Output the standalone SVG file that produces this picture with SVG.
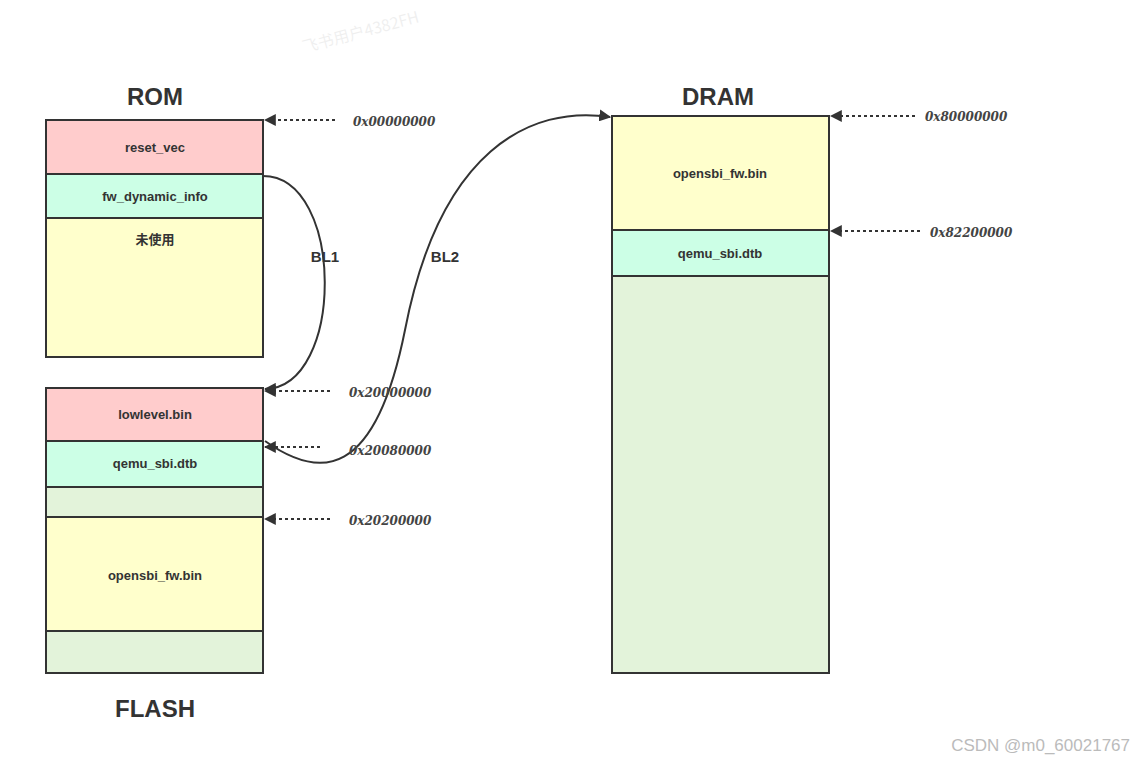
<svg xmlns="http://www.w3.org/2000/svg" width="1135" height="763" viewBox="0 0 1135 763">
<style>
.b{stroke:#333;stroke-width:2}
.t{font-family:"Liberation Sans","Noto Sans CJK SC",sans-serif;font-weight:bold;fill:#333;text-anchor:middle}
.s{font-size:13px}
.h{font-size:24px}
.a{font-family:"DejaVu Serif",serif;font-style:italic;font-weight:bold;font-size:12px;fill:#444}
.d{stroke:#333;stroke-width:2;stroke-dasharray:3 3;fill:none}
.c{stroke:#333;stroke-width:2;fill:none}
.w{font-family:"Noto Sans CJK SC",sans-serif;font-size:16px;fill:#000;opacity:0.06}
</style>
<defs><marker id="m" viewBox="0 0 10 10" refX="9" refY="5" markerWidth="6" markerHeight="6" orient="auto"><path d="M0,0L10,5L0,10z" fill="#333"/></marker></defs>
<rect width="1135" height="763" fill="#fff"/>
<g id="rom">
<rect class="b" x="46" y="120" width="217" height="54" fill="#ffcccc"/>
<rect class="b" x="46" y="174" width="217" height="44" fill="#ccffe6"/>
<rect class="b" x="46" y="218" width="217" height="139" fill="#ffffcc"/>
<text class="t h" x="155" y="105">ROM</text>
<text class="t s" x="155" y="152">reset_vec</text>
<text class="t s" x="155" y="201">fw_dynamic_info</text>
<text class="t s" x="155" y="244">未使用</text>
</g>
<g id="flash">
<rect class="b" x="46" y="388" width="217" height="53" fill="#ffcccc"/>
<rect class="b" x="46" y="441" width="217" height="46" fill="#ccffe6"/>
<rect class="b" x="46" y="487" width="217" height="30" fill="#e3f3da"/>
<rect class="b" x="46" y="517" width="217" height="114" fill="#ffffcc"/>
<rect class="b" x="46" y="631" width="217" height="42" fill="#e3f3da"/>
<text class="t s" x="155" y="419">lowlevel.bin</text>
<text class="t s" x="155" y="468">qemu_sbi.dtb</text>
<text class="t s" x="155" y="580">opensbi_fw.bin</text>
<text class="t h" x="155" y="717">FLASH</text>
</g>
<g id="dram">
<rect class="b" x="612" y="116" width="217" height="114" fill="#ffffcc"/>
<rect class="b" x="612" y="230" width="217" height="46" fill="#ccffe6"/>
<rect class="b" x="612" y="276" width="217" height="397" fill="#e3f3da"/>
<text class="t h" x="718" y="105">DRAM</text>
<text class="t s" x="720" y="178">opensbi_fw.bin</text>
<text class="t s" x="720" y="258">qemu_sbi.dtb</text>
</g>
<g id="connectors">
<path class="d" d="M335,120H265" marker-end="url(#m)"/>
<path class="d" d="M330,391H265" marker-end="url(#m)"/>
<path class="d" d="M320,447H265" marker-end="url(#m)"/>
<path class="d" d="M330,519H265" marker-end="url(#m)"/>
<path class="d" d="M915,116H831" marker-end="url(#m)"/>
<path class="d" d="M920,231H831" marker-end="url(#m)"/>
<path class="c" d="M263,176C345,176 345,388 265,389" marker-end="url(#m)"/>
<path class="c" d="M265,441C320,480 375,480 405,330C440,150 530,105 610,117" marker-end="url(#m)"/>
<text class="t" x="325" y="262" font-size="15">BL1</text>
<text class="t" x="445" y="262" font-size="15">BL2</text>
</g>
<text class="a" x="353" y="126">0x00000000</text>
<text class="a" x="349" y="397">0x20000000</text>
<text class="a" x="349" y="455">0x20080000</text>
<text class="a" x="349" y="525">0x20200000</text>
<text class="a" x="925" y="121">0x80000000</text>
<text class="a" x="930" y="237">0x82200000</text>
<g transform="rotate(-15)">
<text class="w" x="280" y="130">飞书用户4382FH</text>
</g>
<text font-family="Liberation Sans,sans-serif" font-size="17" fill="#bbb" x="1130" y="751" text-anchor="end">CSDN @m0_60021767</text>
</svg>
